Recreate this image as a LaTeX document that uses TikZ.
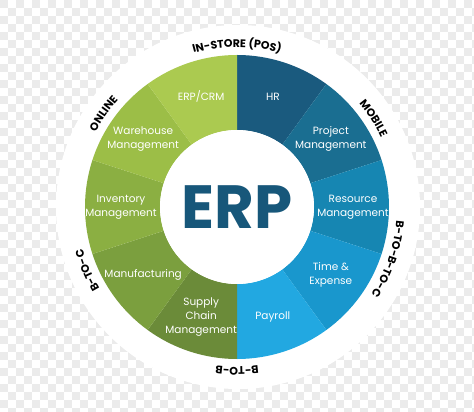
\documentclass[tikz,border=0pt]{standalone}
\usepackage{fontspec}
\setmainfont{Poppins}
\usetikzlibrary{decorations.text}

% colours of the ring
\definecolor{erpnavy}{HTML}{17577A}
\definecolor{segA}{HTML}{1A5A7E}
\definecolor{segB}{HTML}{1A6E91}
\definecolor{segC}{HTML}{1686B2}
\definecolor{segD}{HTML}{1997CD}
\definecolor{segE}{HTML}{22A8E1}
\definecolor{segF}{HTML}{6B8B39}
\definecolor{segG}{HTML}{7B9F3E}
\definecolor{segH}{HTML}{8BAF42}
\definecolor{segI}{HTML}{9CBE47}
\definecolor{segJ}{HTML}{ABCA50}
\definecolor{checker}{HTML}{EBEBEB}

\tikzset{
  seglabel/.style={text=white, align=center, font=\fontsize{10.5}{14}\selectfont},
  centrelabel/.style={circle, fill=white, minimum size=154pt, inner sep=0pt,
    text=erpnavy, font=\fontsize{61}{61}\selectfont\bfseries},
  ringtext/.style={decorate, decoration={text along path, text align=center,
    text={|\fontsize{11}{12}\selectfont\bfseries|#1}}}
}

\begin{document}
\begin{tikzpicture}[x=1pt,y=1pt]

% Picture frame and chequered background
\useasboundingbox (-237,-205) rectangle (237,207);
\fill[white] (-237,-205) rectangle (237,207);
\begin{scope}
\clip (-237,-205) rectangle (237,207);
\foreach \i in {0,...,59}{
  \foreach \j in {0,...,51}{
    \pgfmathtruncatemacro\k{mod(\i+\j,2)}
    \ifnum\k=0
      \fill[checker] (-237+8*\i,207-8*\j) rectangle ++(8,-8);
    \fi
  }
}
\end{scope}

% White outer disc
\fill[white] (1,0) circle (182);

% The ten segments, clockwise from the top
\foreach \a/\c/\t [count=\n] in {
  90/segA/{HR},
  54/segB/{Project\\Management},
  18/segC/{Resource\\Management},
  -18/segD/{Time \&\\Expense},
  -54/segE/{Payroll},
  -90/segF/{Supply\\Chain\\Management},
  -126/segG/{Manufacturing},
  -162/segH/{Inventory\\Management},
  -198/segI/{Warehouse\\Management},
  -234/segJ/{ERP/CRM}}{
  \fill[\c] (\a:77) arc[start angle=\a, end angle=\a-36, radius=77]
    -- (\a-36:152) arc[start angle=\a-36, end angle=\a, radius=152] -- cycle;
  \node[seglabel] (seg\n) at (\a-18:116) {\t};
}

% Centre
\node[centrelabel] (erp) at (0,0) {ERP};

% Channels round the ring
\path[ringtext={IN-STORE (POS)}] (130:160) arc[start angle=130, end angle=50, radius=160];
\path[ringtext={MOBILE}] (68:160) arc[start angle=68, end angle=-2, radius=160];
\path[ringtext={B-TO-B-TO-C}] (16:160) arc[start angle=16, end angle=-54, radius=160];
\path[ringtext={B-TO-B}] (-55:160) arc[start angle=-55, end angle=-125, radius=160];
\path[ringtext={B-TO-C}] (238:160) arc[start angle=238, end angle=168, radius=160];
\path[ringtext={ONLINE}] (180:160) arc[start angle=180, end angle=110, radius=160];

\end{tikzpicture}
\end{document}
